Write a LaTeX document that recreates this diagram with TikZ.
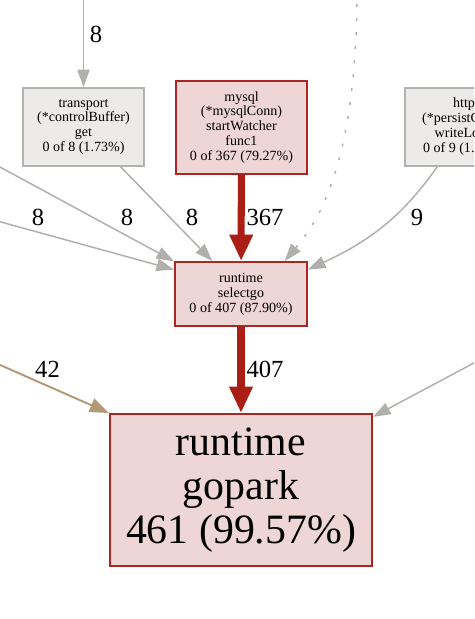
\documentclass[tikz,border=0pt]{standalone}
\usepackage{fontspec}
\setmainfont{Liberation Serif}
\usetikzlibrary{arrows.meta}

\definecolor{hotedge}{RGB}{170,30,22}
\definecolor{hotline}{RGB}{170,38,34}
\definecolor{hotfill}{RGB}{237,214,213}
\definecolor{coldfill}{RGB}{236,235,233}
\definecolor{coldline}{RGB}{178,178,176}
\definecolor{coldedge}{RGB}{178,176,172}
\definecolor{warmedge}{RGB}{178,152,116}

\tikzset{
  fn/.style={rectangle, inner sep=0pt, align=center, font=\fontsize{8}{8.5}\selectfont},
  hotfn/.style={fn, draw=hotline, fill=hotfill, line width=1.1pt},
  coldfn/.style={fn, draw=coldline, fill=coldfill, line width=0.9pt},
  cnt/.style={font=\fontsize{14}{16}\selectfont},
  hot/.style={draw=hotedge, line width=4pt, -{Triangle[length=15pt,width=12.5pt]}},
  cold/.style={draw=coldedge, line width=0.85pt, -{Triangle[length=10pt,width=7pt]}},
  warm/.style={draw=warmedge, line width=1.1pt, -{Triangle[length=11pt,width=8pt]}},
}

\begin{document}
\begin{tikzpicture}[x=0.02cm,y=0.02cm]
  \useasboundingbox (0,0) rectangle (474,-619);
  \clip (0,0) rectangle (474,-619);

  %%%%% functions %%%%%
  \node[coldfn, minimum width=2.42cm, minimum height=1.56cm] (tr) at (83.5,-127)
    {transport\\(*controlBuffer)\\get\\0 of 8 (1.73\%)};
  \node[hotfn, minimum width=2.62cm, minimum height=1.86cm] (ms) at (241.5,-127.5)
    {mysql\\(*mysqlConn)\\startWatcher\\func1\\0 of 367 (79.27\%)};
  \node[coldfn, minimum width=2.36cm, minimum height=1.56cm] (http) at (464,-127)
    {http\\(*persistConn)\\writeLoop\\0 of 9 (1.94\%)};
  \node[hotfn, minimum width=2.64cm, minimum height=1.28cm] (sel) at (241,-294)
    {runtime\\selectgo\\0 of 407 (87.90\%)};
  \node[hotfn, minimum width=5.24cm, minimum height=3.04cm, font=\fontsize{23.8}{25}\selectfont] (gp) at (241,-490)
    {runtime\\gopark\\461 (99.57\%)};

  %%%%% callers off the page %%%%%
  \coordinate (intop) at (83.5,10);
  \coordinate (inA) at (-10,-219);
  \coordinate (inB) at (-10,-161.6);
  \coordinate (inC) at (357,10);
  \coordinate (inD) at (-10,-360.5);
  \coordinate (inE) at (484,-357.6);

  %%%%% edges %%%%%
  \draw[cold] (intop) -- (tr.north);
  \draw[cold] (inA) -- (sel.160);
  \draw[cold] (inB) -- (sel.154);
  \draw[cold] (tr.-47) -- (sel.131);
  \draw[cold, dash pattern=on 1.6pt off 6.4pt] (inC) .. controls (357,-175) and (312,-228) .. (sel.37);
  \draw[cold] (http.-124) to[out=-125,in=25] (sel.20);
  \draw[hot] (ms) -- (sel);
  \draw[warm] (inD) -- (gp.north west);
  \draw[cold] (inE) -- (gp.29);
  \draw[hot] (sel) -- (gp);

  %%%%% counts %%%%%
  \node[cnt] (c8top) at (96,-34) {8};
  \node[cnt] (c8a) at (38,-217) {8};
  \node[cnt] (c8b) at (127,-217) {8};
  \node[cnt] (c8c) at (192,-217) {8};
  \node[cnt] (c367) at (265,-217) {367};
  \node[cnt] (c9) at (417,-217) {9};
  \node[cnt] (c42) at (47.5,-369) {42};
  \node[cnt] (c407) at (265,-369) {407};
\end{tikzpicture}
\end{document}
